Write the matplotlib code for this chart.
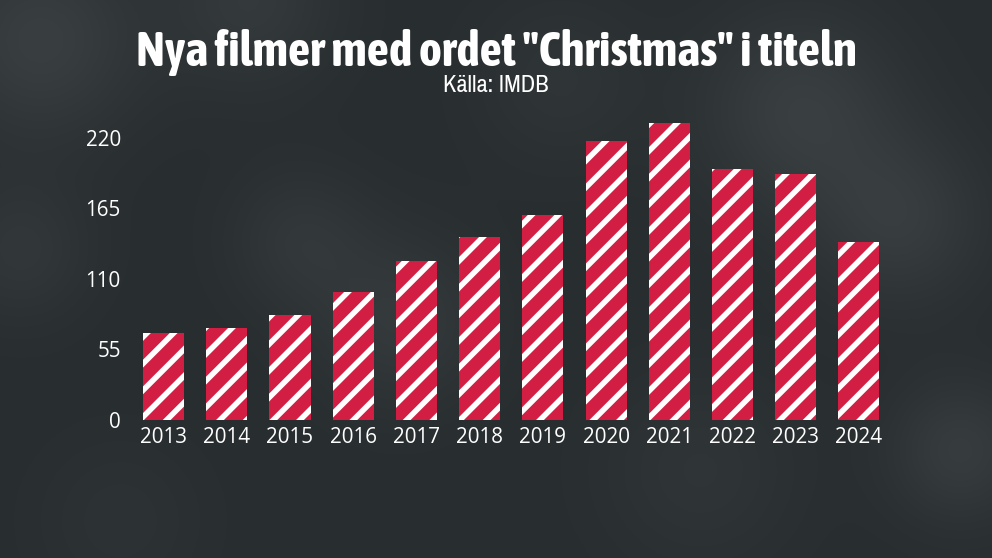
import numpy as np
import matplotlib
matplotlib.use("Agg")
import matplotlib.pyplot as plt
from matplotlib import font_manager as fm

years = ["2013", "2014", "2015", "2016", "2017", "2018", "2019", "2020", "2021", "2022", "2023", "2024"]
counts = [68, 72, 82, 100, 124, 143, 160, 218, 232, 196, 192, 139]
yticks = [0, 55, 110, 165, 220]

title = 'Nya filmer med ordet "Christmas" i titeln'
subtitle = "Källa: IMDB"

DPI = 160
W, H = 992, 558
plt.rcParams['hatch.linewidth'] = 2.5
plt.rcParams['hatch.color'] = 'white'

names = {f.name for f in fm.fontManager.ttflist}
tickfont = 'Open Sans' if 'Open Sans' in names else 'DejaVu Sans'


def find_condensed(bold):
    cands = []
    for f in fm.fontManager.ttflist:
        key = (f.name + ' ' + f.fname).lower()
        cond = ('condensed' in key or 'narrow' in key or
                str(f.stretch).lower() in ('condensed', 'semi-condensed', 'extra-condensed'))
        if not cond:
            continue
        if 'italic' in key or 'oblique' in key or f.style != 'normal':
            continue
        w = f.weight if isinstance(f.weight, int) else {'bold': 700, 'normal': 400}.get(str(f.weight), 400)
        target = 700 if bold else 400
        pref = 0
        for i, nm in enumerate(['roboto', 'liberation', 'open sans', 'noto', 'dejavu', 'lato']):
            if nm in key:
                pref = i
                break
        cands.append((abs(w - target), pref, f.fname))
    if not cands:
        return None
    cands.sort()
    return cands[0][2]


tf = find_condensed(True)
sf = find_condensed(False)
title_fp = fm.FontProperties(fname=tf) if tf else fm.FontProperties(family='DejaVu Sans', weight='bold')
sub_fp = fm.FontProperties(fname=sf) if sf else fm.FontProperties(family='DejaVu Sans')

fig = plt.figure(figsize=(W / DPI, H / DPI), dpi=DPI)

# soft blurred background
bg_ax = fig.add_axes([0, 0, 1, 1], zorder=0)
yy, xx = np.mgrid[0:H, 0:W]
base = np.array([40, 45, 47], dtype=float)
field = np.zeros((H, W))
blobs = [(40, 40, 70, 0.35), (250, 0, 60, 0.25), (800, 110, 70, 0.35), (900, 220, 60, 0.3),
         (960, 450, 50, 0.3), (400, 320, 60, 0.25), (300, 240, 50, 0.2), (560, 80, 60, 0.15),
         (700, 470, 70, 0.15), (120, 520, 60, 0.1), (20, 250, 50, 0.2)]
for bx, by, r, a in blobs:
    field += a * np.exp(-(((xx - bx) ** 2 + (yy - by) ** 2) / (2 * r ** 2)))
field = np.clip(field, 0, 1)
light = np.array([88, 95, 97], dtype=float)
img = base[None, None, :] * (1 - field[..., None]) + light[None, None, :] * field[..., None]
bg_ax.imshow(img.astype(np.uint8), aspect='auto', extent=[0, 1, 0, 1])
bg_ax.axis('off')

ax = fig.add_axes([0.133, 0.2473, 0.8977 - 0.133, 0.7987 - 0.2473], zorder=1)
ax.patch.set_alpha(0)
x = np.arange(len(years))
ax.bar(x, counts, width=0.65, color='#d21e42', edgecolor='white', linewidth=0, hatch='//')
ax.set_xlim(-0.5, len(years) - 0.5)
ax.set_ylim(0, 240)
ax.set_yticks(yticks)
ax.set_yticklabels([str(t) for t in yticks])
ax.set_xticks(x)
ax.set_xticklabels(years)
for s in ax.spines.values():
    s.set_visible(False)
ax.tick_params(axis='both', length=0, colors='white', labelsize=9.3)
ax.tick_params(axis='y', pad=5)
ax.tick_params(axis='x', pad=3)
for lab in ax.get_xticklabels() + ax.get_yticklabels():
    lab.set_fontfamily(tickfont)

t1 = fig.text(0.5, 1 - 52 / H, title, ha='center', va='center', color='white',
              fontproperties=title_fp, fontsize=18.5)
t2 = fig.text(0.5, 1 - 86 / H, subtitle, ha='center', va='center', color='white',
              fontproperties=sub_fp, fontsize=8.5)

# fit text widths to the reference layout
r = fig.canvas.get_renderer()
for t, target in ((t1, 720.0), (t2, 106.0)):
    wpx = t.get_window_extent(r).width
    t.set_fontsize(t.get_fontsize() * target / wpx)

fig.savefig('out.png', dpi=DPI)
